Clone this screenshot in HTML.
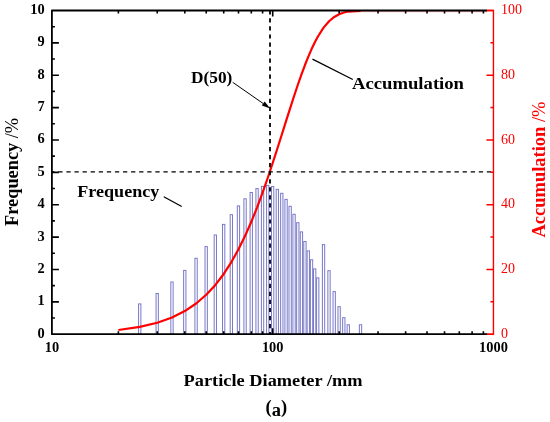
<!DOCTYPE html><html><head><meta charset="utf-8"><style>html,body{margin:0;padding:0;background:#fff;}svg{display:block;}text{font-family:"Liberation Serif", serif;}</style></head><body>
<svg width="550" height="422" viewBox="0 0 550 422">
<g fill="#ffffff" stroke="#7878c8" stroke-width="1.00">
<rect x="138.57" y="303.90" width="2.30" height="30.30"/>
<rect x="156.05" y="293.50" width="2.30" height="40.70"/>
<rect x="170.83" y="282.00" width="2.30" height="52.20"/>
<rect x="183.63" y="270.40" width="2.30" height="63.80"/>
<rect x="194.93" y="258.30" width="2.30" height="75.90"/>
<rect x="205.03" y="246.60" width="2.30" height="87.60"/>
<rect x="214.17" y="235.00" width="2.30" height="99.20"/>
<rect x="222.52" y="224.40" width="2.30" height="109.80"/>
<rect x="230.19" y="214.70" width="2.30" height="119.50"/>
<rect x="237.30" y="205.90" width="2.30" height="128.30"/>
<rect x="243.91" y="198.80" width="2.30" height="135.40"/>
<rect x="250.10" y="192.50" width="2.30" height="141.70"/>
<rect x="255.92" y="188.60" width="2.30" height="145.60"/>
<rect x="261.40" y="186.40" width="2.30" height="147.80"/>
<rect x="266.58" y="185.40" width="2.30" height="148.80"/>
<rect x="271.50" y="186.60" width="2.30" height="147.60"/>
<rect x="276.18" y="189.40" width="2.30" height="144.80"/>
<rect x="280.64" y="193.30" width="2.30" height="140.90"/>
<rect x="284.90" y="199.40" width="2.30" height="134.80"/>
<rect x="288.98" y="206.30" width="2.30" height="127.90"/>
<rect x="292.90" y="214.30" width="2.30" height="119.90"/>
<rect x="296.66" y="222.70" width="2.30" height="111.50"/>
<rect x="300.28" y="231.90" width="2.30" height="102.30"/>
<rect x="303.77" y="241.50" width="2.30" height="92.70"/>
<rect x="307.13" y="250.90" width="2.30" height="83.30"/>
<rect x="310.38" y="259.80" width="2.30" height="74.40"/>
<rect x="313.53" y="268.90" width="2.30" height="65.30"/>
<rect x="316.57" y="277.90" width="2.30" height="56.30"/>
<rect x="322.38" y="244.60" width="2.30" height="89.60"/>
<rect x="327.86" y="270.70" width="2.30" height="63.50"/>
<rect x="333.05" y="291.60" width="2.30" height="42.60"/>
<rect x="337.97" y="306.70" width="2.30" height="27.50"/>
<rect x="342.65" y="317.70" width="2.30" height="16.50"/>
<rect x="347.11" y="324.80" width="2.30" height="9.40"/>
<rect x="359.37" y="324.80" width="2.30" height="9.40"/>
</g>
<path id="curve" d="M118.37,330.02 L139.77,326.92 L157.25,322.77 L172.03,317.51 L184.83,311.09 L196.13,303.50 L206.23,294.76 L215.37,284.89 L223.72,273.97 L231.39,262.08 L238.50,249.33 L245.11,235.85 L251.30,221.79 L257.12,207.31 L262.60,192.57 L267.78,177.75 L272.70,163.01 L277.38,148.53 L281.84,134.46 L286.10,120.93 L290.18,108.07 L294.10,95.99 L297.86,84.75 L301.48,74.42 L304.97,65.03 L308.33,56.59 L311.58,49.08 L314.73,42.48 L317.77,36.75 L323.58,27.65 L329.06,21.24 L334.25,16.94 L339.17,14.19 L343.85,12.52 L348.31,11.55 L360.57,11.00" fill="none" stroke="#ff0000" stroke-width="2.2" stroke-linejoin="round"/>
<line x1="360" y1="11.7" x2="487" y2="11.7" stroke="#ff0000" stroke-opacity="0.35" stroke-width="1"/>
<line x1="270" y1="10.5" x2="270" y2="334" stroke="#000" stroke-width="1.8" stroke-dasharray="4.2 3.845" stroke-dashoffset="0.25"/>
<line x1="52" y1="171.9" x2="493" y2="171.9" stroke="#000" stroke-width="1.4" stroke-dasharray="4.3 3.786" stroke-dashoffset="1.786"/>
<path d="M118.37,334.20V331.20M118.37,10.50V13.50M157.25,334.20V331.20M157.25,10.50V13.50M184.83,334.20V331.20M184.83,10.50V13.50M206.23,334.20V331.20M206.23,10.50V13.50M223.72,334.20V331.20M223.72,10.50V13.50M238.50,334.20V331.20M238.50,10.50V13.50M251.30,334.20V331.20M251.30,10.50V13.50M262.60,334.20V331.20M262.60,10.50V13.50M272.70,334.20V328.20M272.70,10.50V16.50M339.17,334.20V331.20M339.17,10.50V13.50M378.05,334.20V331.20M378.05,10.50V13.50M405.63,334.20V331.20M405.63,10.50V13.50M427.03,334.20V331.20M427.03,10.50V13.50M444.52,334.20V331.20M444.52,10.50V13.50M459.30,334.20V331.20M459.30,10.50V13.50M472.10,334.20V331.20M472.10,10.50V13.50M483.40,334.20V331.20M483.40,10.50V13.50M51.90,318.01H54.90M51.90,301.83H58.90M51.90,285.64H54.90M51.90,269.46H58.90M51.90,253.27H54.90M51.90,237.09H58.90M51.90,220.90H54.90M51.90,204.72H58.90M51.90,188.53H54.90M51.90,172.35H58.90M51.90,156.16H54.90M51.90,139.98H58.90M51.90,123.80H54.90M51.90,107.61H58.90M51.90,91.42H54.90M51.90,75.24H58.90M51.90,59.06H54.90M51.90,42.87H58.90M51.90,26.69H54.90" stroke="#000" stroke-width="1.6" fill="none"/>
<path d="M493.45,334.20H486.45M493.45,301.83H490.45M493.45,269.46H486.45M493.45,237.09H490.45M493.45,204.72H486.45M493.45,172.35H490.45M493.45,139.98H486.45M493.45,107.61H490.45M493.45,75.24H486.45M493.45,42.87H490.45M493.45,10.50H486.45" stroke="#ff0000" stroke-width="1.5" fill="none"/>
<path d="M487,10.5H51.9V334.2H487" stroke="#000" stroke-width="1.8" fill="none" stroke-linejoin="round"/>
<path d="M487,10.5H493.45V334.2H487" stroke="#ff0000" stroke-width="1.4" fill="none"/>
<line x1="232.7" y1="82.3" x2="263.22" y2="103.54" stroke="#000" stroke-width="1.0"/>
<path d="M270.20,108.40 L261.80,105.60 L264.65,101.49 Z" fill="#000"/>
<line x1="312.5" y1="59.2" x2="352.8" y2="79.5" stroke="#000" stroke-width="1.3"/>
<line x1="163.8" y1="196.8" x2="181.7" y2="206.5" stroke="#000" stroke-width="1.3"/>
<text id="L0" x="44.60" y="337.70" font-size="14.40" font-weight="bold" text-anchor="end">0</text>
<text id="L1" x="44.60" y="305.33" font-size="14.40" font-weight="bold" text-anchor="end">1</text>
<text id="L2" x="44.60" y="272.96" font-size="14.40" font-weight="bold" text-anchor="end">2</text>
<text id="L3" x="44.60" y="240.59" font-size="14.40" font-weight="bold" text-anchor="end">3</text>
<text id="L4" x="44.60" y="208.22" font-size="14.40" font-weight="bold" text-anchor="end">4</text>
<text id="L5" x="44.60" y="175.85" font-size="14.40" font-weight="bold" text-anchor="end">5</text>
<text id="L6" x="44.60" y="143.48" font-size="14.40" font-weight="bold" text-anchor="end">6</text>
<text id="L7" x="44.60" y="111.11" font-size="14.40" font-weight="bold" text-anchor="end">7</text>
<text id="L8" x="44.60" y="78.74" font-size="14.40" font-weight="bold" text-anchor="end">8</text>
<text id="L9" x="44.60" y="46.37" font-size="14.40" font-weight="bold" text-anchor="end">9</text>
<text id="L10" x="44.60" y="14.00" font-size="14.40" font-weight="bold" text-anchor="end">10</text>
<text id="B10" x="51.90" y="351.80" font-size="14.40" font-weight="bold" text-anchor="middle">10</text>
<text id="B100" x="272.70" y="351.80" font-size="14.40" font-weight="bold" text-anchor="middle">100</text>
<text id="B1000" x="493.50" y="351.80" font-size="14.40" font-weight="bold" text-anchor="middle">1000</text>
<text id="R0" x="501.00" y="337.90" font-size="14.00" fill="#ff0000">0</text>
<text id="R20" x="501.00" y="273.16" font-size="14.00" fill="#ff0000">20</text>
<text id="R40" x="501.00" y="208.42" font-size="14.00" fill="#ff0000">40</text>
<text id="R60" x="501.00" y="143.68" font-size="14.00" fill="#ff0000">60</text>
<text id="R80" x="501.00" y="78.94" font-size="14.00" fill="#ff0000">80</text>
<text id="R100" x="501.00" y="14.20" font-size="14.00" fill="#ff0000">100</text>
<text id="title" x="183.60" y="385.50" font-size="17.30" font-weight="bold" textLength="179.00" lengthAdjust="spacingAndGlyphs">Particle Diameter /mm</text>
<text id="a" x="265.50" y="413.20" font-size="18.50" font-weight="bold">(<tspan dy="2.5">a</tspan><tspan dy="-2.5">)</tspan></text>
<text id="d50" x="191.00" y="82.90" font-size="17.60" font-weight="bold" textLength="41.40" lengthAdjust="spacingAndGlyphs">D(50)</text>
<text id="acc" x="352.00" y="89.20" font-size="17.50" font-weight="bold" textLength="112.00" lengthAdjust="spacingAndGlyphs">Accumulation</text>
<text id="freq" x="77.30" y="196.80" font-size="17.50" font-weight="bold" textLength="82.00" lengthAdjust="spacingAndGlyphs">Frequency</text>
<text id="ylab" transform="translate(18.20,225.90) rotate(-90)" font-size="18.30" font-weight="bold" textLength="108.00" lengthAdjust="spacingAndGlyphs">Frequency <tspan font-weight="normal">/%</tspan></text>
<text id="y2lab" transform="translate(545.00,237.50) rotate(-90)" font-size="18.30" font-weight="bold" fill="#ff0000" textLength="136.00" lengthAdjust="spacingAndGlyphs">Accumulation <tspan font-weight="normal">/%</tspan></text>
</svg></body></html>
